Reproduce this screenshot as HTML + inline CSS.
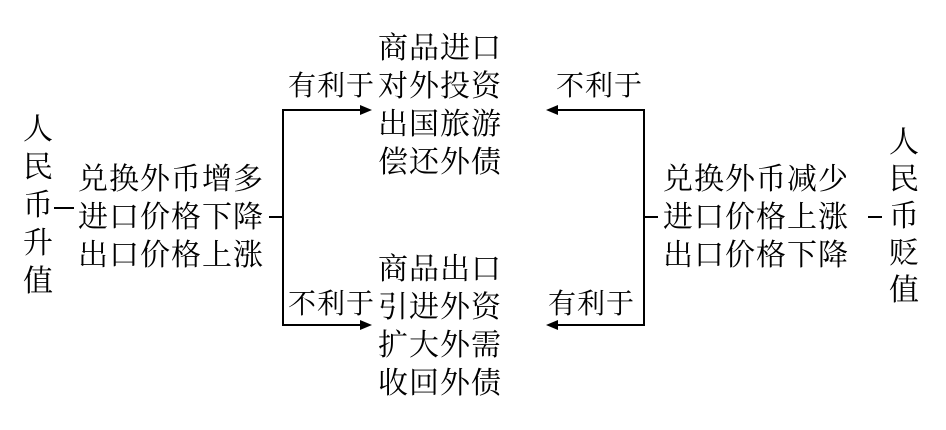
<!DOCTYPE html>
<html><head><meta charset="utf-8"><style>
body{margin:0;width:946px;height:430px;background:#fff;position:relative;overflow:hidden;font-family:"Liberation Serif","Noto Serif CJK SC",serif;color:#000}
.t{position:absolute;font-size:30px;line-height:38px;white-space:nowrap;letter-spacing:1px}
.v{width:32px;text-align:center;letter-spacing:0}
svg{position:absolute;left:0;top:0}
</style></head><body>
<svg width="946" height="430">
<g stroke="#000" stroke-width="2" fill="none">
<line x1="54" y1="208" x2="74" y2="208"/>
<line x1="269" y1="217" x2="283" y2="217"/>
<polyline points="362,110 283,110 283,325 362,325"/>
<line x1="868" y1="217" x2="882" y2="217"/>
<line x1="644" y1="217" x2="658" y2="217"/>
<polyline points="556,110 644,110 644,325 556,325"/>
</g>
<g fill="#000">
<polygon points="372,110 360,105 360,115"/>
<polygon points="372,325 360,320 360,330"/>
<polygon points="546,110 558,105 558,115"/>
<polygon points="546,325 558,320 558,330"/>
</g>
</svg>
<div class="t v" style="left:22px;top:111px">人<br>民<br>币<br>升<br>值</div>
<div class="t" style="left:78px;top:161px">兑换外币增多<br>进口价格下降<br>出口价格上涨</div>
<div class="t" style="left:288px;top:68px;font-size:28px">有利于</div>
<div class="t" style="left:288px;top:286px;font-size:28px">不利于</div>
<div class="t" style="left:378px;top:30px">商品进口<br>对外投资<br>出国旅游<br>偿还外债</div>
<div class="t" style="left:378px;top:251px">商品出口<br>引进外资<br>扩大外需<br>收回外债</div>
<div class="t" style="left:556px;top:68px;font-size:28px">不利于</div>
<div class="t" style="left:548px;top:286px;font-size:28px">有利于</div>
<div class="t" style="left:663px;top:161px">兑换外币减少<br>进口价格上涨<br>出口价格下降</div>
<div class="t v" style="left:888px;top:124px;line-height:37px">人<br>民<br>币<br>贬<br>值</div>
</body></html>
